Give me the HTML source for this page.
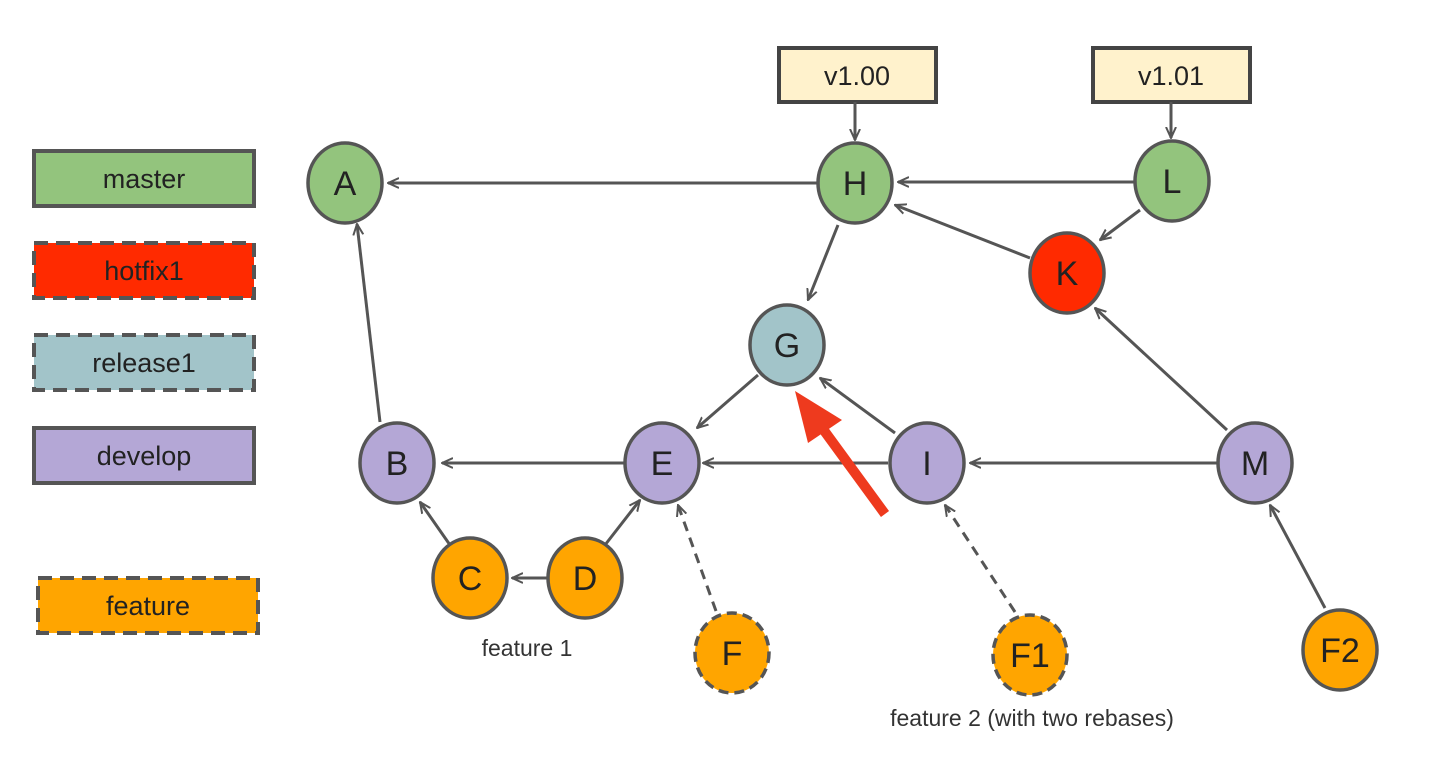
<!DOCTYPE html>
<html><head><meta charset="utf-8"><style>
html,body{margin:0;padding:0;background:#fff;}
svg{display:block;}
text{font-family:"Liberation Sans",sans-serif;}
</style></head><body>
<svg width="1433" height="776" viewBox="0 0 1433 776" xmlns="http://www.w3.org/2000/svg">
<defs>
<marker id="ar" viewBox="0 0 12 12" refX="11" refY="6" markerWidth="12" markerHeight="12" markerUnits="userSpaceOnUse" orient="auto">
<path d="M0,1 L11,6 L0,11" fill="none" stroke="#555" stroke-width="2"/>
</marker>
</defs>
<rect width="1433" height="776" fill="#fff"/>
<!-- legend -->
<g stroke="#555" stroke-width="4">
<rect x="34" y="151" width="220" height="55" fill="#93c47d"/>
<rect x="34" y="243" width="220" height="55" fill="#ff2a00" stroke-dasharray="14,8"/>
<rect x="34" y="335" width="220" height="55" fill="#a2c4c9" stroke-dasharray="14,8"/>
<rect x="34" y="428" width="220" height="55" fill="#b4a7d6"/>
<rect x="38" y="578" width="220" height="55" fill="#ffa500" stroke-dasharray="14,8"/>
</g>
<g font-size="27" text-anchor="middle" fill="#222">
<text x="144" y="188">master</text>
<text x="144" y="280">hotfix1</text>
<text x="144" y="372">release1</text>
<text x="144" y="465">develop</text>
<text x="148" y="615">feature</text>
</g>
<!-- tags -->
<g stroke="#444" stroke-width="4" fill="#fff2cc">
<rect x="779" y="48" width="157" height="54"/>
<rect x="1093" y="48" width="157" height="54"/>
</g>
<g font-size="27" text-anchor="middle" fill="#222">
<text x="857" y="85">v1.00</text>
<text x="1171" y="85">v1.01</text>
</g>
<!-- edges -->
<g stroke="#555" stroke-width="3" fill="none" marker-end="url(#ar)">
<line x1="855" y1="102" x2="855" y2="140"/>
<line x1="1171" y1="102" x2="1171" y2="138"/>
<line x1="817" y1="183" x2="388" y2="183"/>
<line x1="1134" y1="182" x2="898" y2="182"/>
<line x1="1140" y1="210" x2="1100" y2="240"/>
<line x1="1030" y1="258" x2="895" y2="205"/>
<line x1="838" y1="225" x2="808" y2="300"/>
<line x1="1227" y1="430" x2="1095" y2="308"/>
<line x1="758" y1="375" x2="697" y2="428"/>
<line x1="895" y1="433" x2="820" y2="378"/>
<line x1="888" y1="463" x2="703" y2="463"/>
<line x1="1217" y1="463" x2="970" y2="463"/>
<line x1="624" y1="463" x2="442" y2="463"/>
<line x1="380" y1="422" x2="357" y2="224"/>
<line x1="450" y1="545" x2="420" y2="502"/>
<line x1="547" y1="578" x2="512" y2="578"/>
<line x1="605" y1="545" x2="640" y2="500"/>
<line x1="716" y1="611" x2="678" y2="505" stroke-dasharray="10,7"/>
<line x1="1015" y1="612" x2="945" y2="505" stroke-dasharray="10,7"/>
<line x1="1325" y1="608" x2="1270" y2="505"/>
</g>
<!-- nodes -->
<g stroke="#555" stroke-width="3.5">
<ellipse cx="345" cy="183" rx="37" ry="40" fill="#93c47d"/>
<ellipse cx="855" cy="183" rx="37" ry="40" fill="#93c47d"/>
<ellipse cx="1172" cy="181" rx="37" ry="40" fill="#93c47d"/>
<ellipse cx="1067" cy="273" rx="37" ry="40" fill="#ff2a00"/>
<ellipse cx="787" cy="345" rx="37" ry="40" fill="#a2c4c9"/>
<ellipse cx="397" cy="463" rx="37" ry="40" fill="#b4a7d6"/>
<ellipse cx="662" cy="463" rx="37" ry="40" fill="#b4a7d6"/>
<ellipse cx="927" cy="463" rx="37" ry="40" fill="#b4a7d6"/>
<ellipse cx="1255" cy="463" rx="37" ry="40" fill="#b4a7d6"/>
<ellipse cx="470" cy="578" rx="37" ry="40" fill="#ffa500"/>
<ellipse cx="585" cy="578" rx="37" ry="40" fill="#ffa500"/>
<ellipse cx="732" cy="653" rx="37" ry="40" fill="#ffa500" stroke-dasharray="10,6"/>
<ellipse cx="1030" cy="655" rx="37" ry="40" fill="#ffa500" stroke-dasharray="10,6"/>
<ellipse cx="1340" cy="650" rx="37" ry="40" fill="#ffa500"/>
</g>
<g font-size="34" text-anchor="middle" fill="#222">
<text x="345" y="195">A</text>
<text x="855" y="195">H</text>
<text x="1172" y="193">L</text>
<text x="1067" y="285">K</text>
<text x="787" y="357">G</text>
<text x="397" y="475">B</text>
<text x="662" y="475">E</text>
<text x="927" y="475">I</text>
<text x="1255" y="475">M</text>
<text x="470" y="590">C</text>
<text x="585" y="590">D</text>
<text x="732" y="665">F</text>
<text x="1030" y="667">F1</text>
<text x="1340" y="662">F2</text>
</g>
<g font-size="23" text-anchor="middle" fill="#333">
<text x="527" y="656">feature 1</text>
<text x="1032" y="726">feature 2 (with two rebases)</text>
</g>
<!-- red arrow -->
<line x1="885" y1="514" x2="820" y2="425" stroke="#ee3a1e" stroke-width="10"/>
<polygon points="795,391 842,420 808,443" fill="#ee3a1e"/>
</svg>
</body></html>
